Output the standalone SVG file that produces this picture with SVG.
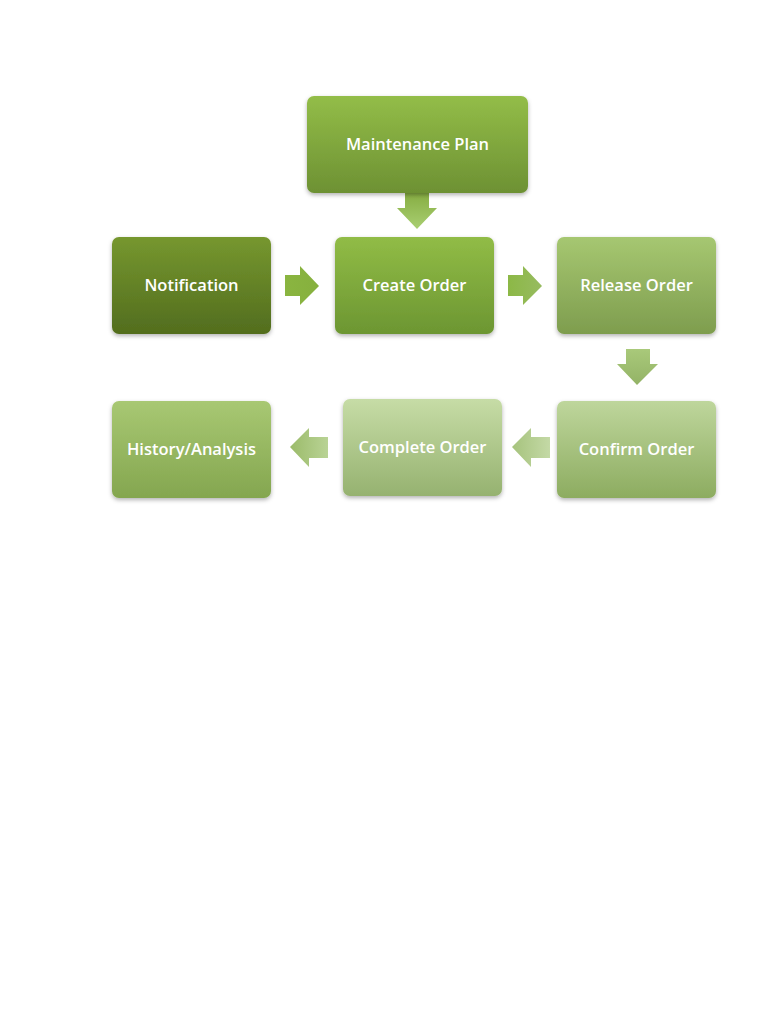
<svg xmlns="http://www.w3.org/2000/svg" width="768" height="1024" viewBox="0 0 768 1024">
<defs>
<linearGradient id="gMP" x1="0" y1="0" x2="0" y2="1"><stop offset="0" stop-color="#93bd48"/><stop offset="1" stop-color="#6d9133"/></linearGradient>
<linearGradient id="gN" x1="0" y1="0" x2="0" y2="1"><stop offset="0" stop-color="#76972f"/><stop offset="1" stop-color="#526d1e"/></linearGradient>
<linearGradient id="gC" x1="0" y1="0" x2="0" y2="1"><stop offset="0" stop-color="#91bc46"/><stop offset="1" stop-color="#6c9632"/></linearGradient>
<linearGradient id="gR" x1="0" y1="0" x2="0" y2="1"><stop offset="0" stop-color="#a6c771"/><stop offset="1" stop-color="#7e9d4e"/></linearGradient>
<linearGradient id="gCf" x1="0" y1="0" x2="0" y2="1"><stop offset="0" stop-color="#bed69c"/><stop offset="1" stop-color="#8dac60"/></linearGradient>
<linearGradient id="gCp" x1="0" y1="0" x2="0" y2="1"><stop offset="0" stop-color="#c6dca6"/><stop offset="1" stop-color="#96b270"/></linearGradient>
<linearGradient id="gH" x1="0" y1="0" x2="0" y2="1"><stop offset="0" stop-color="#a8c873"/><stop offset="1" stop-color="#84a64f"/></linearGradient>
<linearGradient id="gAd" x1="0" y1="0" x2="0" y2="1"><stop offset="0" stop-color="#86ad42"/><stop offset="1" stop-color="#a9cf72"/></linearGradient>
<linearGradient id="gAr" x1="0" y1="0" x2="1" y2="0"><stop offset="0" stop-color="#8ab540"/><stop offset="1" stop-color="#86b03e"/></linearGradient>
<linearGradient id="gAr2" x1="0" y1="0" x2="1" y2="0"><stop offset="0" stop-color="#8cb846"/><stop offset="1" stop-color="#97bb60"/></linearGradient>
<linearGradient id="gAd2" x1="0" y1="0" x2="0" y2="1"><stop offset="0" stop-color="#a9c97a"/><stop offset="1" stop-color="#93b366"/></linearGradient>
<linearGradient id="gAl" x1="1" y1="0" x2="0" y2="0"><stop offset="0" stop-color="#c4d9a6"/><stop offset="1" stop-color="#a6c37d"/></linearGradient>
<linearGradient id="gAl2" x1="1" y1="0" x2="0" y2="0"><stop offset="0" stop-color="#b9d395"/><stop offset="1" stop-color="#9bbb6a"/></linearGradient>
<filter id="sh" x="-10%" y="-10%" width="120%" height="130%"><feDropShadow dx="0" dy="2" stdDeviation="2" flood-color="#000" flood-opacity="0.3"/></filter>
</defs>
<style>
.box{filter:url(#sh)}
.t{font-family:"Open Sans","Liberation Sans",sans-serif;font-weight:600;font-size:16.5px;fill:#fff;text-anchor:middle;dominant-baseline:central}
</style>
<g id="connectors">
<polygon points="405,193 429,193 429,208 437,208 417,229 397,208 405,208" fill="url(#gAd)"/>
<polygon points="285,275 300,275 300,266 319,286 300,305 300,296 285,296" fill="url(#gAr)"/>
<polygon points="508,275 523,275 523,266 542,286 523,305 523,296 508,296" fill="url(#gAr2)"/>
<polygon points="626,349 650,349 650,364 658,364 637,385 617,364 626,364" fill="url(#gAd2)"/>
<polygon points="550,437 531,437 531,428 512,447 531,467 531,458 550,458" fill="url(#gAl)"/>
<polygon points="328,437 309,437 309,428 290,447 309,467 309,458 328,458" fill="url(#gAl2)"/>
</g>
<g id="maintenance-plan"><rect class="box" x="307" y="96" width="221" height="97" rx="7" fill="url(#gMP)"/><text class="t" x="417.5" y="143">Maintenance Plan</text></g>
<g id="notification"><rect class="box" x="112" y="237" width="159" height="97" rx="7" fill="url(#gN)"/><text class="t" x="191.5" y="284">Notification</text></g>
<g id="create-order"><rect class="box" x="335" y="237" width="159" height="97" rx="7" fill="url(#gC)"/><text class="t" x="414.5" y="284">Create Order</text></g>
<g id="release-order"><rect class="box" x="557" y="237" width="159" height="97" rx="7" fill="url(#gR)"/><text class="t" x="636.5" y="284">Release Order</text></g>
<g id="confirm-order"><rect class="box" x="557" y="401" width="159" height="97" rx="7" fill="url(#gCf)"/><text class="t" x="636.5" y="448">Confirm Order</text></g>
<g id="complete-order"><rect class="box" x="343" y="399" width="159" height="97" rx="7" fill="url(#gCp)"/><text class="t" x="422.5" y="446">Complete Order</text></g>
<g id="history-analysis"><rect class="box" x="112" y="401" width="159" height="97" rx="7" fill="url(#gH)"/><text class="t" x="191.5" y="448">History/Analysis</text></g>
</svg>
